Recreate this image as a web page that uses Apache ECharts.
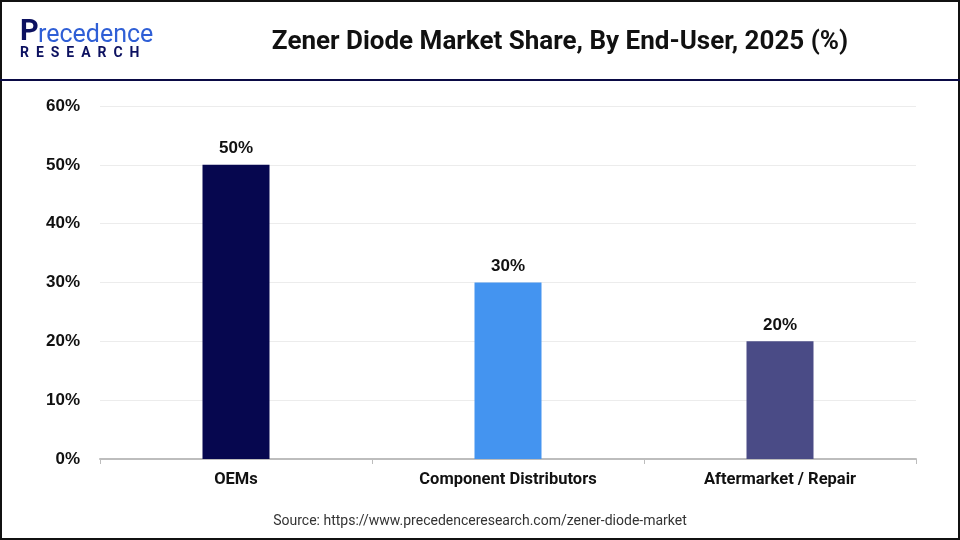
<!DOCTYPE html>
<html>
<head>
<meta charset="utf-8">
<script src="https://cdn.jsdelivr.net/npm/echarts@6/dist/echarts.min.js"></script>
<style>
html,body{margin:0;padding:0;background:#fff;}
#c{width:960px;height:540px;}
</style>
</head>
<body>
<div id="c"></div>
<script>
const categories = ['OEMs', 'Component Distributors', 'Aftermarket / Repair'];
const shareValues = [50, 30, 20];
const barColors = ['#06074f', '#4494f0', '#4a4b86'];
const yTicks = [0, 10, 20, 30, 40, 50, 60];

const chart = echarts.init(document.getElementById('c'), null, {renderer: 'canvas'});
const font = 'Roboto, "Liberation Sans", Arial, sans-serif';
const arial = '"Liberation Sans", Arial, sans-serif';

chart.setOption({
  animation: false,
  backgroundColor: '#fff',
  grid: {left: 100, right: 44, top: 106, bottom: 81, containLabel: false},
  xAxis: {
    type: 'category',
    data: categories,
    boundaryGap: true,
    axisLine: {show: true, lineStyle: {color: '#bdbdbd', width: 2}},
    axisTick: {show: true, length: 5, lineStyle: {color: '#bdbdbd', width: 1}},
    axisLabel: {color: '#111', fontSize: 16.5, fontWeight: 'bold', fontFamily: font, margin: 12}
  },
  yAxis: {
    type: 'value',
    min: yTicks[0],
    max: yTicks[yTicks.length - 1],
    interval: 10,
    axisLine: {show: false},
    axisTick: {show: false},
    splitLine: {lineStyle: {color: '#ececec', width: 1}},
    axisLabel: {formatter: '{value}%', color: '#111', fontSize: 17, fontWeight: 'bold', fontFamily: arial, margin: 20}
  },
  series: [{
    type: 'bar',
    data: shareValues.map((v, i) => ({value: v, itemStyle: {color: barColors[i]}})),
    barWidth: 67,
    label: {show: true, position: 'top', formatter: '{c}%', color: '#111', fontSize: 17, fontWeight: 'bold', fontFamily: arial, distance: 8}
  }],
  graphic: [
    {type: 'rect', shape: {x: 1, y: 1, width: 958, height: 538}, style: {fill: 'none', stroke: '#111', lineWidth: 2}, silent: true},
    {type: 'line', shape: {x1: 0, y1: 80, x2: 960, y2: 80}, style: {stroke: '#0a0a45', lineWidth: 2}},
    {type: 'text', x: 560, y: 42, style: {text: 'Zener Diode Market Share, By End-User, 2025 (%)', fill: '#111', font: 'bold 26px ' + font, align: 'center', verticalAlign: 'middle'}},
    {type: 'text', x: 20, y: 18, style: {text: 'P', fill: '#0c1160', font: 'bold 29px ' + font}},
    {type: 'text', x: 38, y: 23, style: {text: 'recedence', fill: '#2f5fd6', font: '25px ' + font}},
    {type: 'text', x: 20, y: 46, style: {text: 'R  E  S  E  A  R  C  H', fill: '#0c1160', font: 'bold 14px ' + font}},
    {type: 'text', x: 480, y: 521, style: {text: 'Source: https://www.precedenceresearch.com/zener-diode-market', fill: '#333', font: '14px ' + font, align: 'center', verticalAlign: 'middle'}}
  ]
});
</script>
</body>
</html>
